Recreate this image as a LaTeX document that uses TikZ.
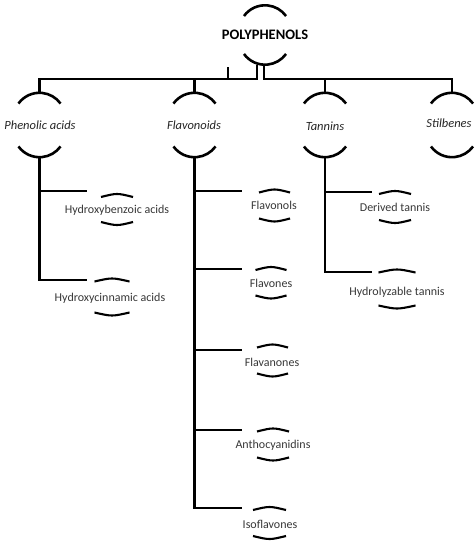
\documentclass[tikz,border=0pt]{standalone}
\usepackage{fontspec}
\setmainfont{Carlito}
\tikzset{
  conn/.style={line width=2.4pt},
  bigarc/.style={line width=2.6pt},
  smallarc/.style={line width=2.1pt},
  ring/.style={circle, inner sep=0pt, draw=none},
  toplabel/.style={font=\fontsize{14.5}{16}\selectfont\bfseries, text=black},
  biglabel/.style={font=\fontsize{12.5}{14}\selectfont\itshape, text=black!85},
  sublabel/.style={font=\fontsize{12}{14}\selectfont, text=black!78, inner sep=1pt}
}
\newcommand{\bigcaps}[1]{%
  \draw[bigarc] (#1.north) ++(-21.03,10.72) arc[start angle=216, end angle=324, radius=26];
  \draw[bigarc] (#1.south) ++(-21.03,-10.72) arc[start angle=144, end angle=36, radius=26];}
\newcommand{\smallcaps}[4]{%
  \draw[smallarc] ({#1-#4},{#2+3}) .. controls (#1,{#2-1}) .. ({#1+#4},{#2+3});
  \draw[smallarc] ({#1-#4},{#3-3}) .. controls (#1,{#3+1}) .. ({#1+#4},{#3-3});}
\begin{document}
\begin{tikzpicture}[x=1pt,y=-1pt]
\fill[white] (0,0) rectangle (474,543);
\useasboundingbox (0,0) rectangle (474,543);

% rings (invisible, for anchors)
\node[ring, minimum size=59pt] (poly) at (265,35) {};
\node[ring, minimum size=64pt] (phen) at (39.5,125) {};
\node[ring, minimum size=64pt] (flav) at (194.5,125) {};
\node[ring, minimum size=64pt] (tann) at (325,125) {};
\node[ring, minimum size=64pt] (stil) at (452,125) {};

% labels
\node[toplabel] (polyt) at (265,35) {POLYPHENOLS};
\node[biglabel] (phent) at (40,125) {Phenolic acids};
\node[biglabel] (flavt) at (194,125) {Flavonoids};
\node[biglabel] (tannt) at (325,126.5) {Tannins};
\node[biglabel] (stilt) at (449,123.5) {Stilbenes};

\node[sublabel] (hba) at (117,210) {Hydroxybenzoic acids};
\node[sublabel] (hca) at (110,298) {Hydroxycinnamic acids};
\node[sublabel] (fnol) at (274,205) {Flavonols};
\node[sublabel] (fone) at (271,283) {Flavones};
\node[sublabel] (fano) at (272,362) {Flavanones};
\node[sublabel] (anth) at (273,445) {Anthocyanidins};
\node[sublabel] (isof) at (270,524) {Isoflavones};
\node[sublabel] (dert) at (395,207) {Derived tannis};
\node[sublabel] (hydt) at (397,292) {Hydrolyzable tannis};

% arcs
\bigcaps{poly}
\bigcaps{phen}
\bigcaps{flav}
\bigcaps{tann}
\bigcaps{stil}
\smallcaps{117}{194}{225}{16}
\smallcaps{112}{278.5}{315.5}{17.5}
\smallcaps{274.5}{189.5}{221.5}{15.5}
\smallcaps{271}{267}{298.5}{15.5}
\smallcaps{272.5}{344.5}{376.5}{15.5}
\smallcaps{273}{428.5}{460.5}{16}
\smallcaps{269.5}{507}{539}{16.5}
\smallcaps{395}{191}{223}{16}
\smallcaps{397}{269.5}{308.5}{18.5}

% junction coordinates
\coordinate (jL) at (257,79);
\coordinate (jR) at (264,79);
\coordinate (tick) at (228,67);

% main bus
\draw[conn] ([xshift=-8pt]poly.south) -- (jL) -| (phen.north);
\draw[conn] (jL -| flav.north) -- (flav.north);
\draw[conn] (tick) -- (tick |- jL);
\draw[conn] ([xshift=-1pt]poly.south) -- (jR) -| (stil.north);
\draw[conn] (jR -| tann.north) -- (tann.north);

% branch ends
\coordinate (ehba) at (87,191);
\coordinate (ehca) at (87,280);
\coordinate (efnol) at (242,191);
\coordinate (efone) at (242,269);
\coordinate (efano) at (242,350);
\coordinate (eanth) at (242,430);
\coordinate (eisof) at (242,508);
\coordinate (edert) at (372,192);
\coordinate (ehydt) at (372,272);

\draw[conn] (phen.south) |- (ehba);
\draw[conn] (phen.south) |- (ehca);
\draw[conn] (flav.south) |- (efnol);
\draw[conn] (flav.south) |- (efone);
\draw[conn] (flav.south) |- (efano);
\draw[conn] (flav.south) |- (eanth);
\draw[conn] (flav.south) |- (eisof);
\draw[conn] (tann.south) |- (edert);
\draw[conn] (tann.south) |- (ehydt);
\end{tikzpicture}
\end{document}
